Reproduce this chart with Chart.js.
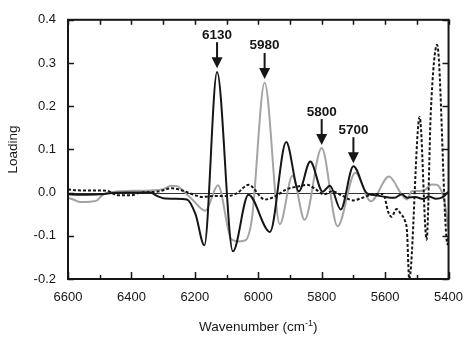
<!DOCTYPE html>
<html>
<head>
<meta charset="utf-8">
<script src="https://cdn.jsdelivr.net/npm/chart.js@4.4.1/dist/chart.umd.min.js"></script>
<style>
  html, body { margin: 0; padding: 0; background: #fff; }
  #wrap { width: 474px; height: 338px; }
</style>
</head>
<body>
<div id="wrap"><canvas id="chart-loading" width="474" height="338"></canvas></div>
<script>
// Component loadings across the NIR band (wavenumber, cm-1)
const solidWave = [6600, 6560, 6500, 6460, 6400, 6340, 6318, 6300, 6260, 6225, 6198, 6170, 6130, 6080, 6031, 5963, 5912, 5872, 5836, 5797, 5774, 5740, 5700, 5657, 5630, 5600, 5570, 5548, 5530, 5505, 5480, 5462, 5440, 5420, 5400];
const solidLoad = [-0.004, -0.005, -0.004, -0.001, 0.000, 0.000, -0.008, -0.013, -0.014, -0.016, -0.050, -0.122, 0.279, -0.136, -0.005, -0.091, 0.117, 0.003, 0.072, 0.002, 0.016, -0.039, 0.061, -0.002, -0.006, -0.010, -0.012, -0.004, -0.012, -0.010, -0.015, -0.009, -0.014, -0.011, 0.002];

const greyWave = [6600, 6580, 6562, 6530, 6508, 6494, 6478, 6440, 6400, 6340, 6300, 6275, 6255, 6238, 6208, 6167, 6127, 6085, 6060, 6040, 6020, 5980, 5932, 5892, 5854, 5800, 5750, 5694, 5645, 5588, 5547, 5531, 5516, 5480, 5453, 5437, 5422, 5412, 5406, 5400];
const greyLoad = [-0.012, -0.017, -0.022, -0.021, -0.018, -0.007, -0.001, 0.003, 0.004, 0.005, 0.008, 0.016, 0.015, 0.005, -0.016, -0.042, 0.017, -0.108, -0.113, -0.110, -0.060, 0.254, -0.073, 0.039, -0.063, 0.103, -0.078, 0.046, -0.020, 0.037, -0.005, -0.016, 0.003, 0.004, 0.019, 0.018, 0.003, -0.023, -0.053, -0.090];

const dashWave = [6600, 6560, 6510, 6475, 6445, 6400, 6372, 6320, 6271, 6240, 6200, 6177, 6140, 6100, 6068, 6031, 5979, 5950, 5910, 5875, 5845, 5820, 5792, 5766, 5738, 5700, 5672, 5640, 5606, 5590, 5580, 5564, 5550, 5538, 5531, 5524, 5491, 5469, 5456, 5436, 5403, 5400];
const dashLoad = [0.007, 0.005, 0.005, 0.004, -0.006, -0.006, 0.000, 0.002, 0.010, 0.005, -0.006, -0.010, -0.008, -0.008, -0.002, 0.018, -0.016, -0.010, 0.008, 0.014, 0.018, 0.008, -0.004, 0.003, -0.006, -0.018, -0.012, -0.004, -0.003, -0.045, -0.056, -0.038, -0.050, -0.064, -0.090, -0.200, 0.175, -0.109, 0.185, 0.342, -0.120, -0.100];

// Marked bands: wavenumber and loading at the arrow tip
const peakWave = [6130, 5980, 5800, 5700];
const peakTip  = [0.288, 0.263, 0.110, 0.068];

const INK  = '#161616';
const GREY = '#a4a4a4';
const FONT = '"Liberation Sans", Arial, sans-serif';

function points(xs, ys) {
    return xs.map((x, i) => ({ x, y: ys[i] }));
}

// frame, inward ticks, zero line, arrows and the x title
const decor = {
    id: 'decor',
    beforeDatasetsDraw(chart) {
        const { ctx, chartArea: a, scales: { y } } = chart;
        const y0 = Math.round(y.getPixelForValue(0)) + 0.5;
        ctx.save();
        ctx.strokeStyle = '#333';
        ctx.lineWidth = 1;
        ctx.beginPath();
        ctx.moveTo(a.left, y0);
        ctx.lineTo(a.right, y0);
        ctx.stroke();
        ctx.restore();
    },
    afterDatasetsDraw(chart) {
        const { ctx, chartArea: a, scales: { x, y } } = chart;
        ctx.save();
        ctx.strokeStyle = INK;
        ctx.lineWidth = 1.5;
        ctx.beginPath();
        for (const t of x.ticks) {
            const px = Math.round(x.getPixelForValue(t.value)) + 0.5;
            const major = Math.round(t.value) % 200 === 0;
            ctx.moveTo(px, a.bottom);
            ctx.lineTo(px, a.bottom - (major ? 7 : 4));
            ctx.moveTo(px, a.top);
            ctx.lineTo(px, a.top + 5);
        }
        for (const t of y.ticks) {
            const py = Math.round(y.getPixelForValue(t.value)) + 0.5;
            ctx.moveTo(a.left, py);
            ctx.lineTo(a.left + 6, py);
            ctx.moveTo(a.right, py);
            ctx.lineTo(a.right - 6, py);
        }
        ctx.stroke();

        ctx.lineWidth = 2;
        ctx.strokeRect(a.left, a.top, a.right - a.left, a.bottom - a.top);

        // arrows with band labels
        ctx.fillStyle = INK;
        ctx.font = 'bold 13.5px ' + FONT;
        ctx.textAlign = 'center';
        ctx.textBaseline = 'alphabetic';
        peakWave.forEach((w, i) => {
            const px = x.getPixelForValue(w);
            const tip = y.getPixelForValue(peakTip[i]);
            ctx.fillText(String(w), px, tip - 29.5);
            ctx.lineWidth = 2;
            ctx.beginPath();
            ctx.moveTo(px, tip - 26);
            ctx.lineTo(px, tip - 9);
            ctx.stroke();
            ctx.beginPath();
            ctx.moveTo(px, tip);
            ctx.lineTo(px - 5.5, tip - 11);
            ctx.lineTo(px + 5.5, tip - 11);
            ctx.closePath();
            ctx.fill();
        });

        // x title with superscript
        const big = '13.5px ' + FONT, small = '9px ' + FONT;
        const parts = [['Wavenumber (cm', big, 0], ['-1', small, -5], [')', big, 0]];
        let total = 0;
        for (const p of parts) { ctx.font = p[1]; total += ctx.measureText(p[0]).width; }
        let cx = (a.left + a.right) / 2 - total / 2;
        ctx.textAlign = 'left';
        for (const p of parts) {
            ctx.font = p[1];
            ctx.fillText(p[0], cx, 331 + p[2]);
            cx += ctx.measureText(p[0]).width;
        }
        ctx.restore();
    },
};

const lineBase = {
    pointRadius: 0,
    borderWidth: 2,
    cubicInterpolationMode: 'monotone',
    fill: false,
};

new Chart(document.getElementById('chart-loading'), {
    type: 'line',
    data: {
        datasets: [
            { ...lineBase, label: 'Solid',  data: points(solidWave, solidLoad), borderColor: INK },
            { ...lineBase, label: 'Dashed', data: points(dashWave, dashLoad),   borderColor: INK, borderDash: [3, 2] },
            { ...lineBase, label: 'Grey',   data: points(greyWave, greyLoad),   borderColor: GREY },
        ],
    },
    options: {
        responsive: false,
        animation: false,
        layout: { padding: { top: 11, right: 22, left: 0, bottom: 0 } },
        plugins: { legend: { display: false }, tooltip: { enabled: false } },
        scales: {
            x: {
                type: 'linear',
                reverse: true,
                min: 5400,
                max: 6600,
                grid: { display: false, drawTicks: false },
                border: { display: false },
                ticks: {
                    stepSize: 100,
                    autoSkip: false,
                    maxRotation: 0,
                    padding: 11,
                    color: INK,
                    font: { family: FONT, size: 13 },
                    callback: v => (Math.round(v) % 200 === 0 ? String(Math.round(v)) : ''),
                },
                afterFit: s => { s.height = 59; },
            },
            y: {
                min: -0.2,
                max: 0.4,
                grid: { display: false, drawTicks: false },
                border: { display: false },
                ticks: {
                    stepSize: 0.1,
                    padding: 12,
                    color: INK,
                    font: { family: FONT, size: 13 },
                    callback: v => (Math.abs(v) < 1e-9 ? '0.0' : v.toFixed(1)),
                },
                title: {
                    display: true,
                    text: 'Loading',
                    color: INK,
                    font: { family: FONT, size: 13.5 },
                    padding: { top: 5, bottom: 0 },
                },
                afterFit: s => { s.width = 68; },
            },
        },
    },
    plugins: [decor],
});
</script>
</body>
</html>
